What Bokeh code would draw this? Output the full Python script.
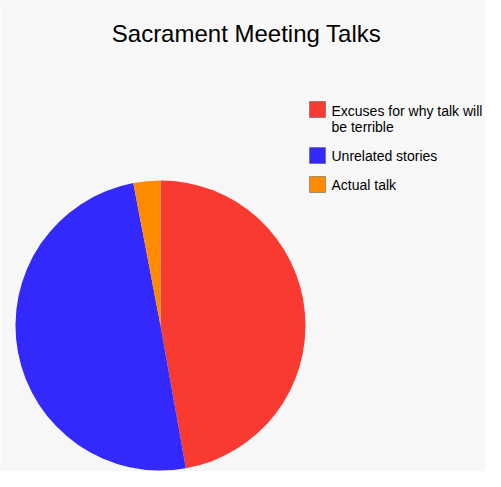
import math
from bokeh.plotting import figure
from bokeh.models import Range1d, ColumnDataSource
from bokeh.core.properties import value
from bokeh.embed import file_html
from bokeh.resources import INLINE

title_text = "Sacrament Meeting Talks"
categories = ["Excuses for why talk will\nbe terrible", "Unrelated stories", "Actual talk"]
shares = [47.2, 49.8, 3.0]
colors = ["#f83a31", "#3329fd", "#ff8c00"]

W, H = 485, 471
p = figure(width=W, height=H, output_backend="svg", toolbar_location=None,
           x_range=Range1d(0, W), y_range=Range1d(0, H), min_border=0)
p.axis.visible = False
p.grid.visible = False
p.outline_line_color = None
p.background_fill_color = "#f7f7f7"
p.border_fill_color = "#f7f7f7"

total = sum(shares)
starts, ends = [], []
acc = 0.0
for s in shares:
    a0 = math.pi / 2 - 2 * math.pi * acc / total
    acc += s
    a1 = math.pi / 2 - 2 * math.pi * acc / total
    starts.append(a0)
    ends.append(a1)

src = ColumnDataSource(dict(start=starts, end=ends, color=colors, label=categories))
p.wedge(x=160, y=146, radius=145, start_angle="start", end_angle="end",
        direction="clock", fill_color="color", line_color=None, source=src)

p.text(x=[246], y=[438.5], text=[title_text], text_align="center", text_baseline="middle",
       text_font=value("Liberation Sans"), text_font_size="24px", text_color="#000000")

leg_y = [362, 316, 287]
p.rect(x=[317] * 3, y=leg_y, width=16, height=16, fill_color=colors, line_color="#555555", line_width=0.5)
p.text(x=[331] * 3, y=[352.5, 316, 287], text=categories, text_align="left", text_baseline="middle",
       text_font=value("Liberation Sans"), text_font_size="14px", text_color="#000000",
       text_line_height=0.97)

open("out.html", "w").write(file_html(p, INLINE))
